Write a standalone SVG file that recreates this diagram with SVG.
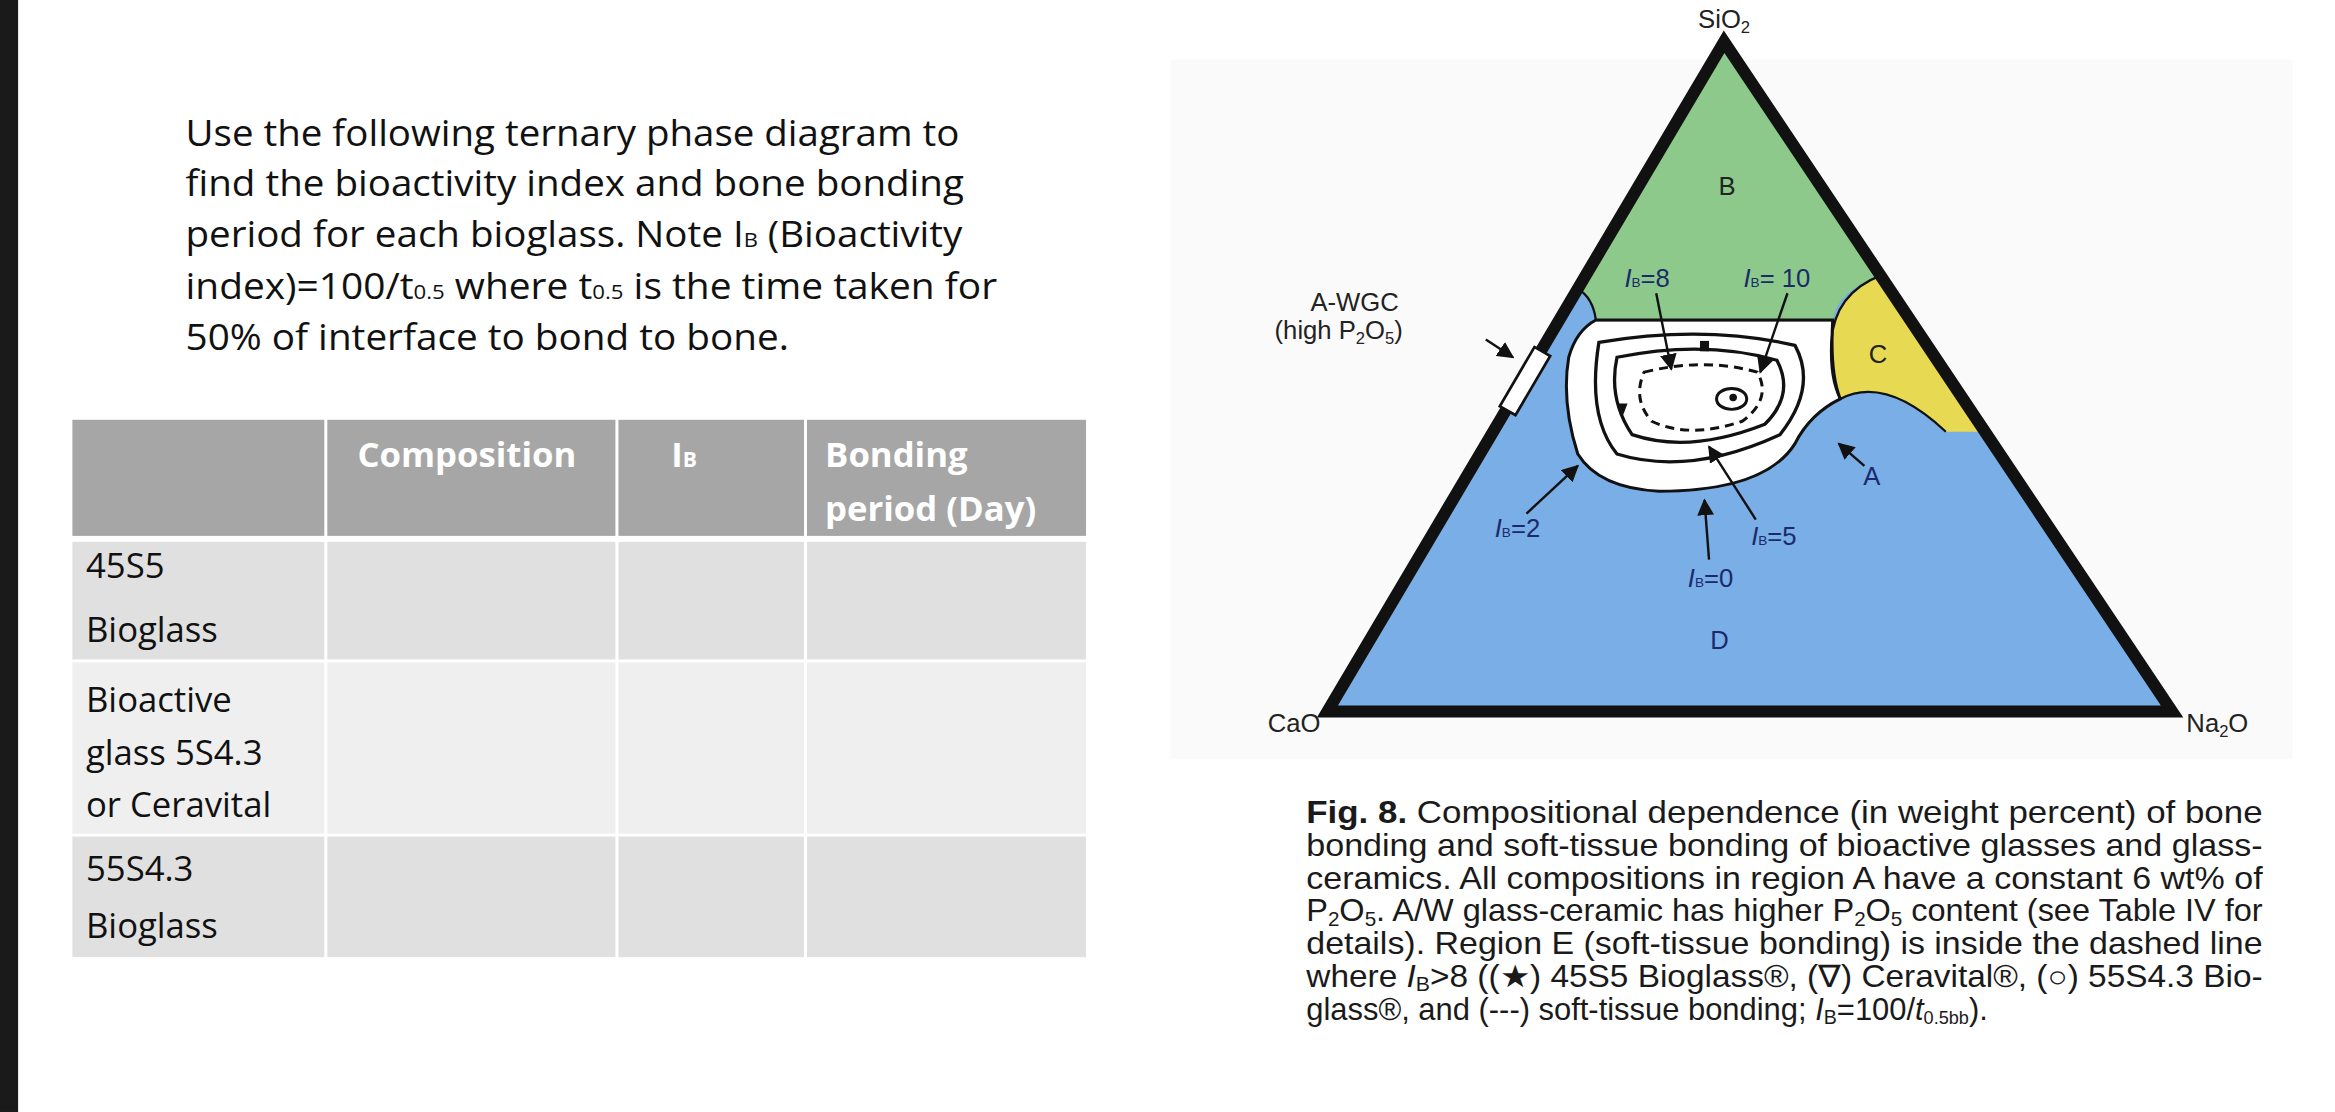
<svg xmlns="http://www.w3.org/2000/svg" width="2335" height="1112" viewBox="0 0 2335 1112">
<style>
.q{font-family:"Open Sans","Noto Sans",sans-serif;font-size:24.5px;fill:#111}
.h{font-family:"Open Sans","Noto Sans",sans-serif;font-size:23px;font-weight:bold;fill:#fff}
.c{font-family:"Open Sans","Noto Sans",sans-serif;font-size:23px;fill:#111}
.f{font-family:"Liberation Sans",Arial,sans-serif;font-size:20.5px;fill:#1a1a1a}
.l{font-family:"Liberation Sans",Arial,sans-serif;font-size:17px;fill:#222}
.lb{font-family:"Liberation Sans",Arial,sans-serif;font-size:17px;fill:#1b2a6b}
.ar{stroke:#111;stroke-width:1.6;fill:none;marker-end:url(#ah)}
</style>
<defs>
<marker id="ah" viewBox="0 0 10 10" refX="9" refY="5" markerWidth="7" markerHeight="7" orient="auto"><path d="M0,0L10,5L0,10z" fill="#111"/></marker>
</defs>
<rect width="2335" height="1112" fill="#fff"/>
<g transform="scale(1.5084,1.4886)">
<rect x="0" y="0" width="12" height="747" fill="#1a1a1a"/>
<g id="question">
<text class="q" x="123" y="98" textLength="513" lengthAdjust="spacingAndGlyphs">Use the following ternary phase diagram to</text>
<text class="q" x="123" y="132" textLength="516" lengthAdjust="spacingAndGlyphs">find the bioactivity index and bone bonding</text>
<text class="q" x="123" y="166" textLength="515" lengthAdjust="spacingAndGlyphs">period for each bioglass. Note I<tspan font-size="14">B</tspan> (Bioactivity</text>
<text class="q" x="123" y="201" textLength="538" lengthAdjust="spacingAndGlyphs">index)=100/t<tspan font-size="14">0.5</tspan> where t<tspan font-size="14">0.5</tspan> is the time taken for</text>
<text class="q" x="123" y="235" textLength="400" lengthAdjust="spacingAndGlyphs">50% of interface to bond to bone.</text>
</g>
<g id="table">
<rect x="48" y="282" width="167" height="78" fill="#a6a6a6"/>
<rect x="217" y="282" width="191" height="78" fill="#a6a6a6"/>
<rect x="410" y="282" width="123" height="78" fill="#a6a6a6"/>
<rect x="535" y="282" width="185" height="78" fill="#a6a6a6"/>
<g fill="#e0e0e0"><rect x="48" y="364" width="167" height="79"/><rect x="217" y="364" width="191" height="79"/><rect x="410" y="364" width="123" height="79"/><rect x="535" y="364" width="185" height="79"/></g>
<g fill="#efefef"><rect x="48" y="445" width="167" height="115"/><rect x="217" y="445" width="191" height="115"/><rect x="410" y="445" width="123" height="115"/><rect x="535" y="445" width="185" height="115"/></g>
<g fill="#e0e0e0"><rect x="48" y="562" width="167" height="81"/><rect x="217" y="562" width="191" height="81"/><rect x="410" y="562" width="123" height="81"/><rect x="535" y="562" width="185" height="81"/></g>
<text class="h" x="237" y="314">Composition</text>
<text class="h" x="445" y="314">I<tspan font-size="14">B</tspan></text>
<text class="h" x="547" y="314">Bonding</text>
<text class="h" x="547" y="350">period (Day)</text>
<text class="c" x="57" y="388">45S5</text>
<text class="c" x="57" y="431">Bioglass</text>
<text class="c" x="57" y="478">Bioactive</text>
<text class="c" x="57" y="514">glass 5S4.3</text>
<text class="c" x="57" y="549">or Ceravital</text>
<text class="c" x="57" y="592">55S4.3</text>
<text class="c" x="57" y="630">Bioglass</text>
</g>
<g id="diagram">
<rect x="776" y="40" width="744" height="470" fill="#fafafa"/>
<polygon id="regionD" points="1143,28 880,478 1440,478" fill="#7aaee6"/>
<path id="regionB" d="M1143,28 L1046,194 Q1056,200 1058,215 L1215,215 Q1218,195 1247,185 Z" fill="#8cc98a"/>
<path id="regionC" d="M1247,185 Q1216,197 1214,230 Q1213,255 1220,268 Q1250,252 1290,290 L1317,290 Z" fill="#e8d952"/>
<path id="regionA" d="M1058,215 L1215,215 Q1213,250 1220,268 Q1200,278 1190,298 Q1170,330 1100,330 Q1060,328 1046,305 Q1035,270 1040,240 Q1045,222 1058,215 Z" fill="#fff" stroke="#111" stroke-width="2"/>
<path d="M1046,194 Q1056,200 1058,215 L1215,215" fill="none" stroke="#111" stroke-width="1.5"/>
<path d="M1247,185 Q1216,197 1214,230 Q1213,255 1220,268 Q1250,252 1290,290" fill="none" stroke="#111" stroke-width="1.5"/>
<path d="M1060,230 Q1130,218 1190,232 Q1205,260 1180,292 Q1120,320 1072,305 Q1052,280 1060,230 Z" fill="none" stroke="#111" stroke-width="2.2"/>
<path d="M1072,240 Q1130,228 1178,242 Q1190,265 1170,285 Q1120,305 1082,292 Q1066,268 1072,240 Z" fill="none" stroke="#111" stroke-width="2.2"/>
<path d="M1090,250 Q1130,240 1165,250 Q1175,268 1155,283 Q1120,295 1095,283 Q1082,268 1090,250 Z" fill="none" stroke="#111" stroke-width="2" stroke-dasharray="6,4"/>
<ellipse cx="1148" cy="268" rx="10" ry="7" fill="none" stroke="#111" stroke-width="2"/>
<circle cx="1149" cy="267" r="2.5" fill="#111"/>
<rect x="1127" y="229" width="6" height="7" fill="#111"/>
<path d="M1073,271 L1076,279 L1079,271 Z" fill="#111"/>
<polygon points="1143,28 880,478 1440,478" fill="none" stroke="#111" stroke-width="8" stroke-linejoin="miter"/>
<g transform="translate(1011,256) rotate(30)"><rect x="-6" y="-23" width="12" height="46" fill="#fff" stroke="#111" stroke-width="1.8"/></g>
</g>
<g id="connectors">
<path class="ar" d="M985,228 L1003,240"/>
<path class="ar" d="M1098,197 L1108,248"/>
<path class="ar" d="M1185,197 L1167,250"/>
<path class="ar" d="M1236,313 L1219,298"/>
<path class="ar" d="M1012,345 L1046,313"/>
<path class="ar" d="M1164,349 L1133,300"/>
<path class="ar" d="M1133,376 L1130,336"/>
</g>
<g id="labels">
<text class="l" x="1143" y="19" text-anchor="middle">SiO<tspan font-size="11" dy="3">2</tspan></text>
<text class="l" x="858" y="492" text-anchor="middle">CaO</text>
<text class="l" x="1470" y="492" text-anchor="middle">Na<tspan font-size="11" dy="3">2</tspan><tspan dy="-3">O</tspan></text>
<text class="l" x="898" y="209" text-anchor="middle">A-WGC</text>
<text class="l" x="845" y="228">(high P<tspan font-size="11" dy="3">2</tspan><tspan dy="-3">O</tspan><tspan font-size="11" dy="3">5</tspan><tspan dy="-3">)</tspan></text>
<text class="l" x="1145" y="131" text-anchor="middle">B</text>
<text class="l" x="1245" y="244" text-anchor="middle">C</text>
<text class="lb" x="1241" y="326" text-anchor="middle">A</text>
<text class="lb" x="1140" y="436" text-anchor="middle">D</text>
<text class="lb" x="1092" y="193" text-anchor="middle"><tspan font-style="italic">I</tspan><tspan font-size="9">B</tspan>=8</text>
<text class="lb" x="1178" y="193" text-anchor="middle"><tspan font-style="italic">I</tspan><tspan font-size="9">B</tspan>= 10</text>
<text class="lb" x="1006" y="361" text-anchor="middle"><tspan font-style="italic">I</tspan><tspan font-size="9">B</tspan>=2</text>
<text class="lb" x="1176" y="366" text-anchor="middle"><tspan font-style="italic">I</tspan><tspan font-size="9">B</tspan>=5</text>
<text class="lb" x="1134" y="394" text-anchor="middle"><tspan font-style="italic">I</tspan><tspan font-size="9">B</tspan>=0</text>
</g>
<g id="caption">
<text class="f" x="866" y="553" textLength="634" lengthAdjust="spacingAndGlyphs"><tspan font-weight="bold">Fig. 8.</tspan>  Compositional dependence (in weight percent) of bone</text>
<text class="f" x="866" y="575" textLength="634" lengthAdjust="spacingAndGlyphs">bonding and soft-tissue bonding of bioactive glasses and glass-</text>
<text class="f" x="866" y="597" textLength="634" lengthAdjust="spacingAndGlyphs">ceramics. All compositions in region A have a constant 6 wt% of</text>
<text class="f" x="866" y="619" textLength="634" lengthAdjust="spacingAndGlyphs">P<tspan font-size="13" dy="3">2</tspan><tspan dy="-3">O</tspan><tspan font-size="13" dy="3">5</tspan><tspan dy="-3">. A/W glass-ceramic has higher P</tspan><tspan font-size="13" dy="3">2</tspan><tspan dy="-3">O</tspan><tspan font-size="13" dy="3">5</tspan><tspan dy="-3"> content (see Table IV for</tspan></text>
<text class="f" x="866" y="641" textLength="634" lengthAdjust="spacingAndGlyphs">details). Region E (soft-tissue bonding) is inside the dashed line</text>
<text class="f" x="866" y="663" textLength="634" lengthAdjust="spacingAndGlyphs">where <tspan font-style="italic">I</tspan><tspan font-size="13" dy="3">B</tspan><tspan dy="-3">&gt;8 ((★) 45S5 Bioglass®, (∇) Ceravital®, (○) 55S4.3 Bio-</tspan></text>
<text class="f" x="866" y="685">glass®, and (---) soft-tissue bonding; <tspan font-style="italic">I</tspan><tspan font-size="13" dy="3">B</tspan><tspan dy="-3">=100/</tspan><tspan font-style="italic">t</tspan><tspan font-size="12" dy="3">0.5bb</tspan><tspan dy="-3">).</tspan></text>
</g>
</g>
</svg>
